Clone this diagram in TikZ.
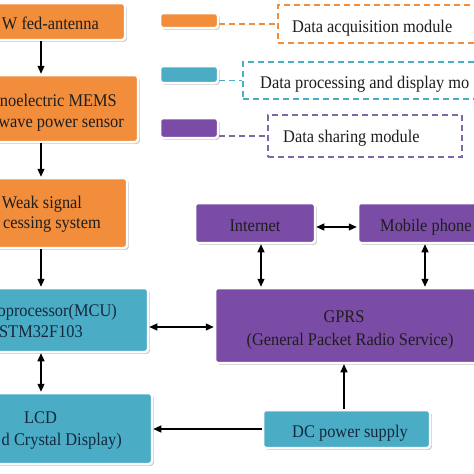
\documentclass[tikz,border=0pt]{standalone}
\usepackage{fontspec}
\setmainfont{Liberation Serif}
\newfontfamily\diafont[FakeStretch=0.92]{Liberation Serif}
\usetikzlibrary{arrows.meta,shadows}
\definecolor{orng}{HTML}{F28D3C}
\definecolor{aqua}{HTML}{4BACC6}
\definecolor{purp}{HTML}{7A4CA6}
\definecolor{purpdash}{HTML}{7E68A6}
\definecolor{txtdark}{HTML}{1E1E1E}
\definecolor{txtblue}{HTML}{14283C}
\tikzset{
 blk/.style={draw=white, line width=2.5pt, rounded corners=3pt,
   drop shadow={shadow xshift=1.8pt, shadow yshift=-1.8pt, fill=black!40, opacity=0.55},
   inner sep=0pt},
 ob/.style={blk, fill=orng},
 bb/.style={blk, fill=aqua},
 pb/.style={blk, fill=purp},
 lbl/.style={inner sep=0pt, font=\diafont\fontsize{17.8}{21}\selectfont, text=txtdark},
 lblb/.style={lbl, text=txtblue},
 dbox/.style={draw, line width=1.1pt, dash pattern=on 6pt off 4pt, inner sep=0pt},
 dl/.style={line width=1.1pt, dash pattern=on 6pt off 4pt},
 arr/.style={line width=1.1pt, -{Triangle[length=8pt,width=7pt]}},
 darr/.style={line width=1.1pt, {Triangle[length=8pt,width=7pt]}-{Triangle[length=8pt,width=7pt]}},
}
\begin{document}
\begin{tikzpicture}[x=1pt,y=-1pt]
\useasboundingbox (0,0) rectangle (474,474);
\clip (0,0) rectangle (474,474);
\fill[white] (0,0) rectangle (474,474);

% left column boxes
\node[ob, minimum width=148, minimum height=37] (b1) at (51,21.5) {};
\node[ob, minimum width=154, minimum height=67] (b2) at (61,108.5) {};
\node[ob, minimum width=167, minimum height=70] (b3) at (43.5,213) {};
\node[bb, minimum width=214, minimum height=64] (b4) at (41,320) {};
\node[bb, minimum width=223, minimum height=71] (b5) at (40.5,428.5) {};

% right side boxes
\node[pb, minimum width=120, minimum height=40] (inet) at (255,223) {};
\node[pb, minimum width=140, minimum height=40] (mob) at (428,223) {};
\node[pb, minimum width=264, minimum height=75] (gprs) at (347,325.5) {};
\node[bb, minimum width=167, minimum height=38] (dc) at (346.5,429) {};

% legend
\node[ob, minimum width=58, minimum height=15] (lo) at (189,20.5) {};
\node[bb, minimum width=58, minimum height=17] (lb) at (189,74.5) {};
\node[pb, minimum width=58, minimum height=20] (lp) at (189,128) {};
\node[dbox, draw=orng, minimum width=212, minimum height=38] (da) at (384,24) {};
\node[dbox, draw=aqua, minimum width=247, minimum height=37] (dp) at (366.5,80.5) {};
\node[dbox, draw=purpdash, minimum width=194, minimum height=42] (ds) at (365,136) {};
\draw[dl, orng] (lo.east |- da.west) -- (da.west);
\draw[dl, aqua] (lb.east |- dp.west) -- (dp.west);
\draw[dl, purpdash] (lp.east |- ds.west) -- (ds.west);

% texts
\node[lbl, anchor=base east] (t1) at (99,29) {W fed-antenna};
\node[lbl, anchor=base east] (t2a) at (117,106) {noelectric MEMS};
\node[lbl, anchor=base east] (t2b) at (124,127) {wave power sensor};
\node[lbl, anchor=base] (t3a) at (42,208) {Weak signal};
\node[lbl, anchor=base east] (t3b) at (101,228) {cessing system};
\node[lblb, anchor=base east] (t4a) at (117,316) {oprocessor(MCU)};
\node[lblb, anchor=base] (t4b) at (41,337) {STM32F103};
\node[lblb, anchor=base] (t5a) at (40.5,423) {LCD};
\node[lblb, anchor=base east] (t5b) at (122,445) {d Crystal Display)};
\node[lbl, anchor=base west] (ta) at (292,32) {Data acquisition module};
\node[lbl, anchor=base west] (tp) at (260,88) {Data processing and display mo};
\node[lbl, anchor=base west] (ts) at (283,142) {Data sharing module};
\node[lbl, anchor=base] (tI) at (255,231) {Internet};
\node[lbl, anchor=base west] (tM) at (380,231) {Mobile phone};
\node[lbl, anchor=base] (tG1) at (344,322) {GPRS};
\node[lbl, anchor=base] (tG2) at (350,345) {(General Packet Radio Service)};
\node[lblb, anchor=base] (tD) at (350,437) {DC power supply};

% helper coordinates
\coordinate (ax) at (41,0);
\coordinate (ym) at (0,327);
\coordinate (yi) at (0,227);
\coordinate (xi) at (261,0);
\coordinate (xm) at (425,0);
\coordinate (xd) at (344,0);

% connectors
\draw[arr] (b1.south -| ax) -- (b2.north -| ax);
\draw[arr] (b2.south -| ax) -- (b3.north -| ax);
\draw[arr] (b3.south -| ax) -- (b4.north -| ax);
\draw[darr] (b4.south -| ax) -- (b5.north -| ax);
\draw[darr] (b4.east |- ym) -- (gprs.west |- ym);
\draw[darr] (inet.east |- yi) -- (mob.west |- yi);
\draw[darr] (inet.south -| xi) -- (gprs.north -| xi);
\draw[darr] (mob.south -| xm) -- (gprs.north -| xm);
\draw[arr] (dc.north -| xd) -- (gprs.south -| xd);
\draw[arr] (dc.west) -- (b5.east |- dc.west);
\end{tikzpicture}
\end{document}
